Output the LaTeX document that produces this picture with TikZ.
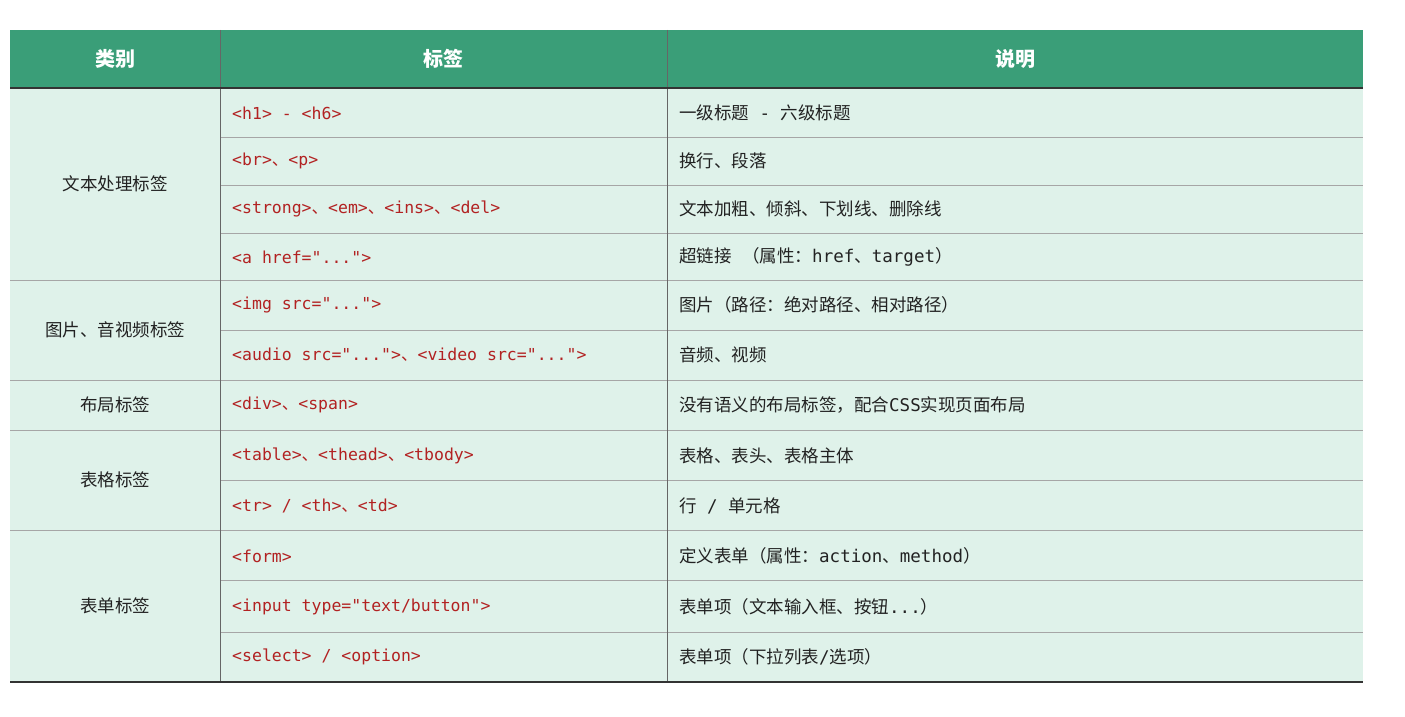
\documentclass[tikz,border=0pt]{standalone}
\usepackage{fontspec}
\newfontfamily\cjk{Noto Sans CJK SC}
\newfontfamily\mono{DejaVu Sans Mono}
\setmainfont{Noto Sans CJK SC}
\definecolor{hdr}{HTML}{3A9E78}
\definecolor{body}{HTML}{DFF2EA}
\definecolor{tagred}{HTML}{B22222}
\definecolor{txt}{HTML}{222222}
\newcommand{\dn}{{\cjk 、}}
\newcommand{\mt}[1]{{\mono #1}}
\begin{document}
\begin{tikzpicture}[x=1pt,y=-1pt,
  hd/.style={text=white,font=\cjk\fontsize{20}{24}\selectfont\bfseries},
  tg/.style={anchor=west,text=tagred,font=\mono\fontsize{16.5}{20}\selectfont,inner sep=0},
  ds/.style={anchor=west,text=txt,font=\cjk\fontsize{17.5}{21}\selectfont,inner sep=0},
  ct/.style={text=txt,font=\cjk\fontsize{17.5}{21}\selectfont},
  sep/.style={draw=black!35,line width=0.8pt},
  thk/.style={draw=black!80,line width=1.6pt}]
\useasboundingbox (0,0) rectangle (1405,717);
\fill[white] (0,0) rectangle (1405,717);
\fill[hdr] (10,30) rectangle (1363,88);
\fill[body] (10,88) rectangle (1363,682);
% separators
\foreach \y in {137,185,233,330,480,580,632} \draw[sep] (220,\y) -- (1363,\y);
\foreach \y in {280,380,430,530} \draw[sep] (10,\y) -- (1363,\y);
\draw[draw=black!60,line width=0.8pt] (220,30) -- (220,682) (667,30) -- (667,682);
\draw[thk] (10,88) -- (1363,88);
\draw[thk] (10,682) -- (1363,682);
% header
\node[hd] (h1) at (115,59) {类别};
\node[hd] (h2) at (443,59) {标签};
\node[hd] (h3) at (1015,59) {说明};
% categories
\node[ct] (c1) at (115,184) {文本处理标签};
\node[ct] (c2) at (115,330) {图片、音视频标签};
\node[ct] (c3) at (115,405) {布局标签};
\node[ct] (c4) at (115,480) {表格标签};
\node[ct] (c5) at (115,606) {表单标签};
% tags
\node[tg] (t1) at (232,113) {<h1> - <h6>};
\node[tg] (t2) at (232,161) {<br>\dn<p>};
\node[tg] (t3) at (232,209) {<strong>\dn<em>\dn<ins>\dn<del>};
\node[tg] (t4) at (232,257) {<a href="...">};
\node[tg] (t5) at (232,305) {<img src="...">};
\node[tg] (t6) at (232,355) {<audio src="...">\dn<video src="...">};
\node[tg] (t7) at (232,405) {<div>\dn<span>};
\node[tg] (t8) at (232,456) {<table>\dn<thead>\dn<tbody>};
\node[tg] (t9) at (232,506) {<tr> / <th>\dn<td>};
\node[tg] (t10) at (232,556) {<form>};
\node[tg] (t11) at (232,607) {<input type="text/button">};
\node[tg] (t12) at (232,657) {<select> / <option>};
% descriptions
\node[ds] (d1) at (679,113) {一级标题\mt{ - }六级标题};
\node[ds] (d2) at (679,161) {换行、段落};
\node[ds] (d3) at (679,209) {文本加粗、倾斜、下划线、删除线};
\node[ds] (d4) at (679,257) {超链接\mt{ }（属性：\mt{href}、\mt{target}）};
\node[ds] (d5) at (679,305) {图片（路径：绝对路径、相对路径）};
\node[ds] (d6) at (679,355) {音频、视频};
\node[ds] (d7) at (679,405) {没有语义的布局标签，配合\mt{CSS}实现页面布局};
\node[ds] (d8) at (679,456) {表格、表头、表格主体};
\node[ds] (d9) at (679,506) {行\mt{ / }单元格};
\node[ds] (d10) at (679,556) {定义表单（属性：\mt{action}、\mt{method}）};
\node[ds] (d11) at (679,607) {表单项（文本输入框、按钮\mt{...}）};
\node[ds] (d12) at (679,657) {表单项（下拉列表\mt{/}选项）};
\end{tikzpicture}
\end{document}
